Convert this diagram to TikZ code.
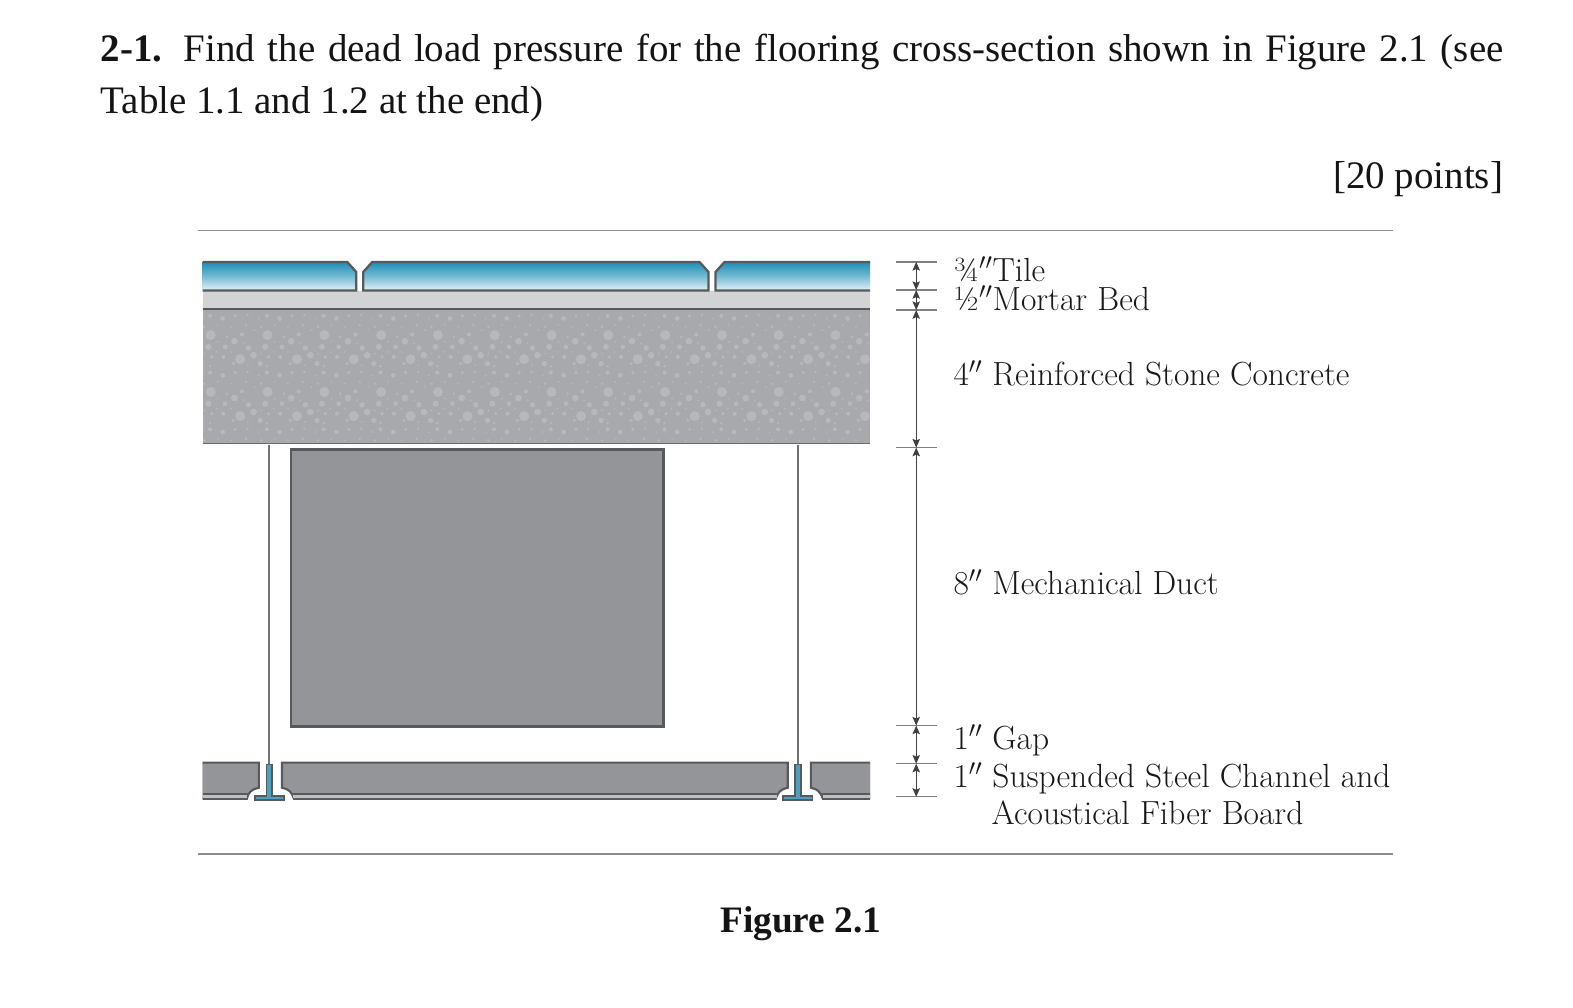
\documentclass[tikz,border=0pt]{standalone}
\usepackage{fontspec}
\newfontfamily\bodyfont{Liberation Serif}
\usetikzlibrary{arrows.meta}
\definecolor{tileTop}{HTML}{1B8DB5}
\definecolor{tileBot}{HTML}{E4F2F8}
\definecolor{edgeDark}{HTML}{58595B}
\definecolor{mortar}{HTML}{D1D3D4}
\definecolor{conc}{HTML}{A7A9AC}
\definecolor{concDot}{HTML}{B6B8BA}
\definecolor{ductFill}{HTML}{939598}
\definecolor{ruleGray}{HTML}{8A8C8E}
\definecolor{steel}{HTML}{4F9FC0}
\newlength{\pxu}\setlength{\pxu}{0.7526pt}
\tikzset{
 x=0.7526pt,y=-0.7526pt,
 tile/.style={top color=tileTop,bottom color=tileBot,middle color=tileTop!55!tileBot,draw=edgeDark,line width=1.7pt,line join=miter},
 board/.style={fill=ductFill,draw=edgeDark,line width=1.6pt},
 hanger/.style={draw=edgeDark!85,line width=1.8pt},
 steelT/.style={fill=steel,draw=edgeDark,line width=1.2pt},
 hrule/.style={draw=ruleGray,line width=0.9pt},
 dimline/.style={draw=black!75,line width=0.7pt,{Stealth[length=6.5pt,width=5.6pt,inset=1.2pt]}-{Stealth[length=6.5pt,width=5.6pt,inset=1.2pt]}},
 tick/.style={draw=black!50,line width=0.9pt},
 bodytext/.style={inner sep=0pt,anchor=base west,font=\bodyfont\fontsize{29.2}{33}\selectfont,text=black!92},
 lab/.style={inner sep=0pt,anchor=base west,font=\fontsize{25.1}{28}\selectfont,text=black!90},
}
\newcommand{\blobtile}{%
 \foreach \px/\py/\pr in {22/17/6,60/25/7,97/17/5,134/15/4,167/25/3,24/75/15,72/80/4,117/73/6,17/110/9,67/110/7,95/93/10,137/113/8,27/140/5,62/140/6,112/147/15,152/135/10,172/160/8,92/160/5,22/168/4,45/45/3,85/50/3,130/45/4,155/60/3,45/95/3,122/100/3,85/125/3,42/125/3,135/165/3,5/50/4,5/130/3}
  {\fill[concDot] (\px/3,\py/3) circle[radius=\pr/3*0.7526pt];}%
}
\begin{document}
\begin{tikzpicture}
\useasboundingbox (0,0) rectangle (1567.5,1003.5);
\fill[white] (0,0) rectangle (1567.5,1003.5);
% text above
\node[bodytext] (line1) at (100,61) {\makebox[1398\pxu][s]{\textbf{2-1.} Find the dead load pressure for the flooring cross-section shown in Figure 2.1 (see}};
\node[bodytext] (line2) at (100,113) {Table 1.1 and 1.2 at the end)};
\node[bodytext,anchor=base east] (pts) at (1498,188) {[20 points]};
% rules
\draw[hrule] (197,230) -- (1388,230);
\draw[hrule] (197,851) -- (1388,851);
% mortar
\fill[mortar] (202,290) rectangle (867,308);
% concrete
\fill[conc] (202,308) rectangle (867,442);
\begin{scope}
\clip (202,309) rectangle (867,442);
\foreach \tx in {0,...,11}\foreach \ty in {0,1,2}{
 \begin{scope}[shift={(202+\tx*56.6,309+\ty*56.6)}]\blobtile\end{scope}}
\end{scope}
\draw[edgeDark,line width=1.6pt] (202,308) -- (867,308);
\draw[edgeDark!90,line width=1.4pt] (202,442) -- (867,442);
% tiles
\path[tile] (202,261) -- (346,261) -- (355,271) -- (355,289.5) -- (202,289.5);
\path[tile] (867,289.5) -- (713,289.5) -- (713,271) -- (722,261) -- (867,261);
\path[tile] (371,261) -- (697,261) -- (706,271) -- (706,289.5) -- (362,289.5) -- (362,271) -- cycle;
\fill[white] (202,260) ++(-1.5,-1) rectangle (201.2,291);
\fill[white] (867.8,259) rectangle (870,291);
% duct
\path[fill=ductFill,draw=edgeDark,line width=2.1pt] (290,448) rectangle (661,724);
% hangers
\draw[hanger] (268,443) -- (268,762);
\draw[hanger] (795,443) -- (795,762);
% boards
\fill[ductFill] (202,760) -- (258,760) -- (258,785) .. controls (251,786) and (247,790) .. (246,796) -- (202,796) -- cycle;
\draw[board] (202,760) -- (258,760) -- (258,785) .. controls (251,786) and (247,790) .. (246,796) -- (202,796);
\fill[mortar!70!ductFill] (202,792) rectangle (246,795);
\draw[edgeDark,line width=1.3pt] (202,791.5) -- (247,791.5);
\fill[ductFill] (281,760) -- (785,760) -- (785,785) .. controls (778,786) and (775,790) .. (773,796) -- (293,796) .. controls (291,790) and (288,786) .. (281,785) -- cycle;
\draw[board] (773,796) .. controls (775,790) and (778,786) .. (785,785) -- (785,760) -- (281,760) -- (281,785) .. controls (288,786) and (291,790) .. (293,796) -- cycle;
\fill[mortar!70!ductFill] (292,792) rectangle (774,795);
\draw[edgeDark,line width=1.3pt] (291,791.5) -- (775,791.5);
\fill[ductFill] (808,760) -- (867,760) -- (867,796) -- (820,796) .. controls (818,790) and (815,786) .. (808,785) -- cycle;
\draw[board] (867,760) -- (808,760) -- (808,785) .. controls (815,786) and (818,790) .. (820,796) -- (867,796);
\fill[mortar!70!ductFill] (820,792) rectangle (867,795);
\draw[edgeDark,line width=1.3pt] (819,791.5) -- (867,791.5);
% T sections
\path[steelT] (265.5,762) -- (271,762) -- (271,793) -- (283,793) -- (283,797) -- (254,797) -- (254,793) -- (265.5,793) -- cycle;
\path[steelT] (792.5,762) -- (798,762) -- (798,793) -- (809.5,793) -- (809.5,797) -- (780.5,797) -- (780.5,793) -- (792.5,793) -- cycle;
% dimension stations
\coordinate (d1) at (913,261);
\coordinate (d2) at (913,289);
\coordinate (d3) at (913,309);
\coordinate (d4) at (913,446);
\coordinate (d5) at (913,723);
\coordinate (d6) at (913,761);
\coordinate (d7) at (913,794);
\foreach \p in {d1,d2,d3,d4,d5,d6,d7}
 \draw[tick] ([xshift=-15.5pt]\p) -- ([xshift=15.5pt]\p);
\draw[dimline] (d1) -- (d2);
\draw[dimline] (d2) -- (d3);
\draw[dimline] (d3) -- (d4);
\draw[dimline] (d4) -- (d5);
\draw[dimline] (d5) -- (d6);
\draw[dimline] (d6) -- (d7);
% labels
\node[lab] (tileL) at (950,281) {¾$''$Tile};
\node[lab] (mortarL) at (950,309) {½$''$Mortar Bed};
\node[lab] (concL) at (950,384) {4$''$ Reinforced Stone Concrete};
\node[lab] (ductL) at (950,592) {8$''$ Mechanical Duct};
\node[lab] (gapL) at (950,747) {1$''$ Gap};
\node[lab] (steelL) at (950,785) {1$''$ Suspended Steel Channel and};
\node[lab] (steelL2) at (988,822) {Acoustical Fiber Board};
\node[bodytext,anchor=base,font=\bodyfont\bfseries\fontsize{28}{33}\selectfont] (figL) at (798,929) {Figure 2.1};
\end{tikzpicture}
\end{document}
